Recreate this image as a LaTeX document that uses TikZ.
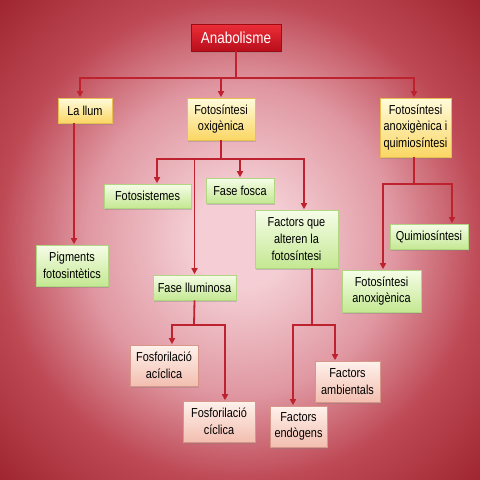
\documentclass[tikz,border=0pt]{standalone}
\usepackage{fontspec}
\setmainfont{Liberation Sans}[FakeStretch=0.84]
\usetikzlibrary{arrows.meta,shadows}
\definecolor{bgin}{RGB}{244,206,212}
\definecolor{bgmid}{RGB}{224,152,162}
\definecolor{bgedge}{RGB}{190,74,86}
\definecolor{bgout}{RGB}{158,36,46}
\definecolor{lc}{RGB}{190,34,46}
\definecolor{ytop}{RGB}{255,251,220}
\definecolor{ybot}{RGB}{250,214,100}
\definecolor{ydraw}{RGB}{232,190,80}
\definecolor{gtop}{RGB}{246,253,232}
\definecolor{gbot}{RGB}{196,232,146}
\definecolor{gdraw}{RGB}{176,214,130}
\definecolor{ptop}{RGB}{255,242,236}
\definecolor{pbot}{RGB}{242,190,176}
\definecolor{pdraw}{RGB}{214,150,136}
\definecolor{rtop}{RGB}{236,46,56}
\definecolor{rbot}{RGB}{184,14,28}
\definecolor{rdraw}{RGB}{160,10,20}
\pgfdeclareradialshading{bgshade}{\pgfpoint{0bp}{0bp}}{color(0bp)=(bgin); color(5bp)=(bgin); color(16bp)=(bgmid); color(25bp)=(bgedge); color(36bp)=(bgout); color(50bp)=(bgout)}
\begin{document}
\begin{tikzpicture}[x=1pt,y=-1pt,
  box/.style={rectangle, align=center, line width=0.6pt,
    font=\fontsize{13}{16.7}\selectfont, inner sep=1pt,
    drop shadow={opacity=0.35,shadow xshift=1.3pt,shadow yshift=-1.6pt}},
  ybox/.style={box, draw=ydraw, top color=ytop, bottom color=ybot},
  gbox/.style={box, draw=gdraw, top color=gtop, bottom color=gbot},
  pbox/.style={box, draw=pdraw, top color=ptop, bottom color=pbot},
  rbox/.style={box, draw=rdraw, top color=rtop, bottom color=rbot,
    text=white, font=\fontsize{16}{19}\selectfont},
  conn/.style={draw=lc, line width=1.8pt},
  arr/.style={conn, -{Triangle[width=6pt,length=6pt]}, shorten >=0.5pt}
]
\useasboundingbox (0,0) rectangle (480,480);
\shade[shading=bgshade] (0,0) rectangle (480,480);

% nodes
\node[rbox, minimum width=90pt, minimum height=27pt] (anab) at (236,37.5) {Anabolisme};
\node[ybox, minimum width=54pt, minimum height=25pt] (llum) at (85,110.5) {La llum};
\node[ybox, minimum width=68pt, minimum height=42pt] (foxi) at (221,119) {Fotosíntesi\\oxigènica};
\node[ybox, minimum width=71pt, minimum height=59pt] (fanox) at (415.5,127.5) {Fotosíntesi\\anoxigènica i\\quimiosíntesi};
\node[gbox, minimum width=72pt, minimum height=41pt] (pigm) at (72,265.5) {Pigments\\fotosintètics};
\node[gbox, minimum width=87pt, minimum height=24pt] (fsist) at (147.5,196) {Fotosistemes};
\node[gbox, minimum width=68pt, minimum height=25pt] (ffosca) at (240,190.5) {Fase fosca};
\node[gbox, minimum width=83pt, minimum height=58pt] (factors) at (296.5,239) {Factors que\\alteren la\\fotosíntesi};
\node[gbox, minimum width=83pt, minimum height=25pt] (flumi) at (194.5,287.5) {Fase lluminosa};
\node[gbox, minimum width=78pt, minimum height=25pt] (quimio) at (429,236.5) {Quimiosíntesi};
\node[gbox, minimum width=79pt, minimum height=42pt] (fanox2) at (381.5,291) {Fotosíntesi\\anoxigènica};
\node[pbox, minimum width=68pt, minimum height=41pt] (facic) at (164,365.5) {Fosforilació\\acíclica};
\node[pbox, minimum width=72pt, minimum height=41pt] (fcic) at (219,421.5) {Fosforilació\\cíclica};
\node[pbox, minimum width=57pt, minimum height=41pt] (fendo) at (298.5,426.5) {Factors\\endògens};
\node[pbox, minimum width=65pt, minimum height=41pt] (famb) at (347.5,381.5) {Factors\\ambientals};

% junctions
\coordinate (j1) at (236,78);
\coordinate (j2) at (221,159);
\coordinate (j3) at (414,184);
\coordinate (j4) at (194,325);
\coordinate (j5) at (312,325);

% connectors
\draw[conn] (anab.south) -- (j1);
\draw[arr] (j1) -| ([xshift=-5pt]llum.north);
\draw[arr] (j1) -| (foxi.north);
\draw[arr] (j1) -| ([xshift=-1.5pt]fanox.north);

\draw[arr] ([xshift=-11pt]llum.south) -- ([xshift=-11pt]llum.south |- pigm.north);

\draw[conn] (foxi.south) -- (j2);
\draw[arr] (j2) -| ([xshift=9.5pt]fsist.north);
\draw[arr] (j2) -| (flumi.north);
\draw[arr] (j2) -| (ffosca.north);
\draw[arr] (j2) -| ([xshift=7.5pt]factors.north);

\draw[conn] ([xshift=-1.5pt]fanox.south) -- (j3);
\draw[arr] (j3) -| ([xshift=1.5pt]fanox2.north);
\draw[arr] (j3) -| ([xshift=23pt]quimio.north);

\draw[conn] (flumi.south) -- (j4);
\draw[arr] (j4) -| ([xshift=8pt]facic.north);
\draw[arr] (j4) -| ([xshift=6pt]fcic.north);

\draw[conn] ([xshift=15.5pt]factors.south) -- (j5);
\draw[arr] (j5) -| ([xshift=-5.5pt]fendo.north);
\draw[arr] (j5) -| ([xshift=-12.5pt]famb.north);
\end{tikzpicture}
\end{document}
